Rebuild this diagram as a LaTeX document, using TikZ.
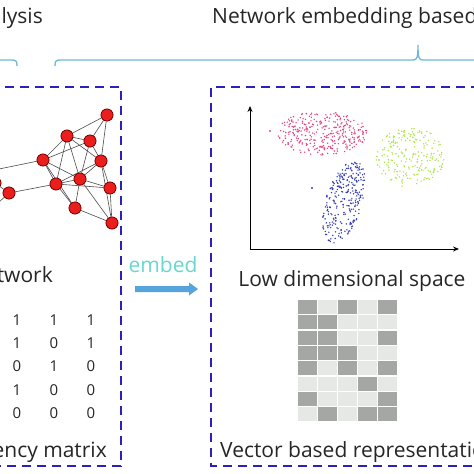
\documentclass[tikz,border=0pt]{standalone}
\usepackage{fontspec}
\setmainfont{Open Sans}
\usetikzlibrary{arrows.meta}

\definecolor{bracecol}{RGB}{110,185,215}
\definecolor{boxcol}{RGB}{45,30,190}
\definecolor{embedcol}{RGB}{105,215,205}
\definecolor{arrowcol}{RGB}{85,165,220}
\definecolor{nodered}{RGB}{235,30,30}
\definecolor{pinkdot}{RGB}{225,70,130}
\definecolor{greendot}{RGB}{170,230,70}
\definecolor{bluedot}{RGB}{50,60,180}
\definecolor{celldark}{RGB}{165,167,165}
\definecolor{celllight}{RGB}{230,232,230}

\tikzset{
  vertex/.style={circle,draw=black!55!red,fill=nodered,inner sep=0pt,minimum size=12pt,line width=0.6pt},
  link/.style={black!70,line width=0.6pt},
  bigtext/.style={font=\fontsize{21}{25}\selectfont,inner sep=0pt,text=black!85},
  entry/.style={font=\fontsize{15}{17}\selectfont,inner sep=0pt,text=black!85},
  boxline/.style={boxcol,line width=2pt,dash pattern=on 9pt off 6pt},
  braceline/.style={bracecol,line width=1.3pt},
}

\begin{document}
\begin{tikzpicture}[x=1pt,y=-1pt]
    \clip (0,0) rectangle (474,474);
    \fill[white] (0,0) rectangle (474,474);

    % titles and braces
    \node [bigtext,anchor=base east] (ana) at (43,23) {analysis};
    \node [bigtext,anchor=base west] (emb) at (212,23) {Network embedding based};
    \draw[braceline] (-5,60) -- (12,60) .. controls (16,60) and (17,61) .. (17,66);
    \draw[braceline] (55,66) .. controls (55,61) and (56,60) .. (60,60) -- (413,60)
        .. controls (417,60) and (418,58) .. (418,45)
        .. controls (418,58) and (419,60) .. (423,60) -- (480,60);

    % dashed boxes
    \draw[boxline] (-10,87) -- (121,87) -- (121,466) -- (-10,466);
    \draw[boxline] (480,87) -- (211,87) -- (211,466) -- (480,466);

    % network
    \node [vertex] (n1)  at (107,115) {};
    \node [vertex] (n2)  at (67,136)  {};
    \node [vertex] (n3)  at (90,141)  {};
    \node [vertex] (n4)  at (101,161) {};
    \node [vertex] (n5)  at (43,160)  {};
    \node [vertex] (n6)  at (80,179)  {};
    \node [vertex] (n7)  at (56,184)  {};
    \node [vertex] (n8)  at (110,188) {};
    \node [vertex] (n9)  at (9,193)   {};
    \node [vertex] (n10) at (75,208)  {};
    \node [vertex] (n11) at (112,223) {};
    \node [vertex] (nA)  at (-5,183)  {};
    \node [vertex] (nB)  at (-40,177) {};
    \node [vertex] (nC)  at (-12,212) {};
    \foreach \a/\b in {n1/n2,n1/n3,n1/n4,n2/n3,n2/n4,n2/n5,n2/n6,n2/n7,n3/n4,n3/n6,n3/n5,
                       n4/n7,n4/n6,n4/n8,n4/n11,n5/n7,n5/n6,n5/n10,n6/n7,n6/n8,n6/n10,
                       n6/n11,n7/n8,n7/n10,n7/n9,n10/n11,n8/n11,n5/nB,n9/nA,n9/nC}
        \draw[link] (\a) -- (\b);
    \foreach \v in {n1,n2,n3,n4,n5,n6,n7,n8,n9,n10,n11,nA}
        \node [vertex] at (\v) {};
    \node [bigtext,anchor=base east] (net) at (53,282) {Network};

    % adjacency matrix
    \foreach \r/\row in {1/{1,1,1},2/{1,0,1},3/{0,1,0},4/{1,0,0},5/{0,0,0}}
        \foreach \v [count=\c] in \row
            \node [entry] (m\r\c) at (-20+37*\c,297+23.2*\r) {\v};
    \node [bigtext,anchor=base east] (adj) at (107,457) {Adjacency matrix};

    % embed arrow
    \node [bigtext,text=embedcol] (embed) at (163,265) {embed};
    \fill[arrowcol] (135,286) -- (189,286) -- (189,282.5) -- (198,289)
        -- (189,295.5) -- (189,292) -- (135,292) -- cycle;

    % low dimensional space
    \coordinate (origin) at (250,249);
    \coordinate (ytop) at (250,106);
    \coordinate (xend) at (459,249);
    \draw[black,line width=0.9pt,-{Stealth[length=6pt,width=5pt]}] (origin) -- (ytop);
    \draw[black,line width=0.9pt,-{Stealth[length=6pt,width=5pt]}] (origin) -- (xend);
    \pgfmathsetseed{42}
    \foreach \n/\cx/\cy/\a/\b/\sl/\col in {330/322/133/45/22/0/pinkdot,
                                           220/410/157/34/30/0/greendot,
                                           280/344/202/19/41/-0.25/bluedot}{
        \foreach \k in {1,...,\n}{
            \pgfmathsetmacro\ang{360*rnd}
            \pgfmathsetmacro\rr{sqrt(rnd)}
            \pgfmathsetmacro\dy{\b*\rr*sin(\ang)}
            \pgfmathsetmacro\dx{\a*\rr*cos(\ang)+\sl*\dy}
            \fill[\col] (\cx+\dx,\cy+\dy) circle (0.8pt);
        }
    }
    \fill[bluedot] (312,188) circle (1.2pt);
    \fill[pinkdot] (270,131) circle (1.2pt);
    \node [bigtext,anchor=base] (low) at (352,286) {Low dimensional space};

    % vector representation
    \foreach \r/\row in {1/{1,0,1,0,1},2/{1,1,0,0,0},3/{1,1,0,0,1},4/{1,1,1,0,0},
                         5/{1,0,1,0,1},6/{0,0,0,1,0},7/{1,0,0,0,1},8/{0,1,0,1,1}}
        \foreach \v [count=\c] in \row {
            \ifnum\v=1 \def\cellcol{celldark}\else \def\cellcol{celllight}\fi
            \fill[\cellcol] (278+20*\c,284.7+15.3*\r) rectangle ++(18.5,14);
        }
    \node [bigtext,anchor=base west] (vec) at (220,457) {Vector based representation};
\end{tikzpicture}
\end{document}
